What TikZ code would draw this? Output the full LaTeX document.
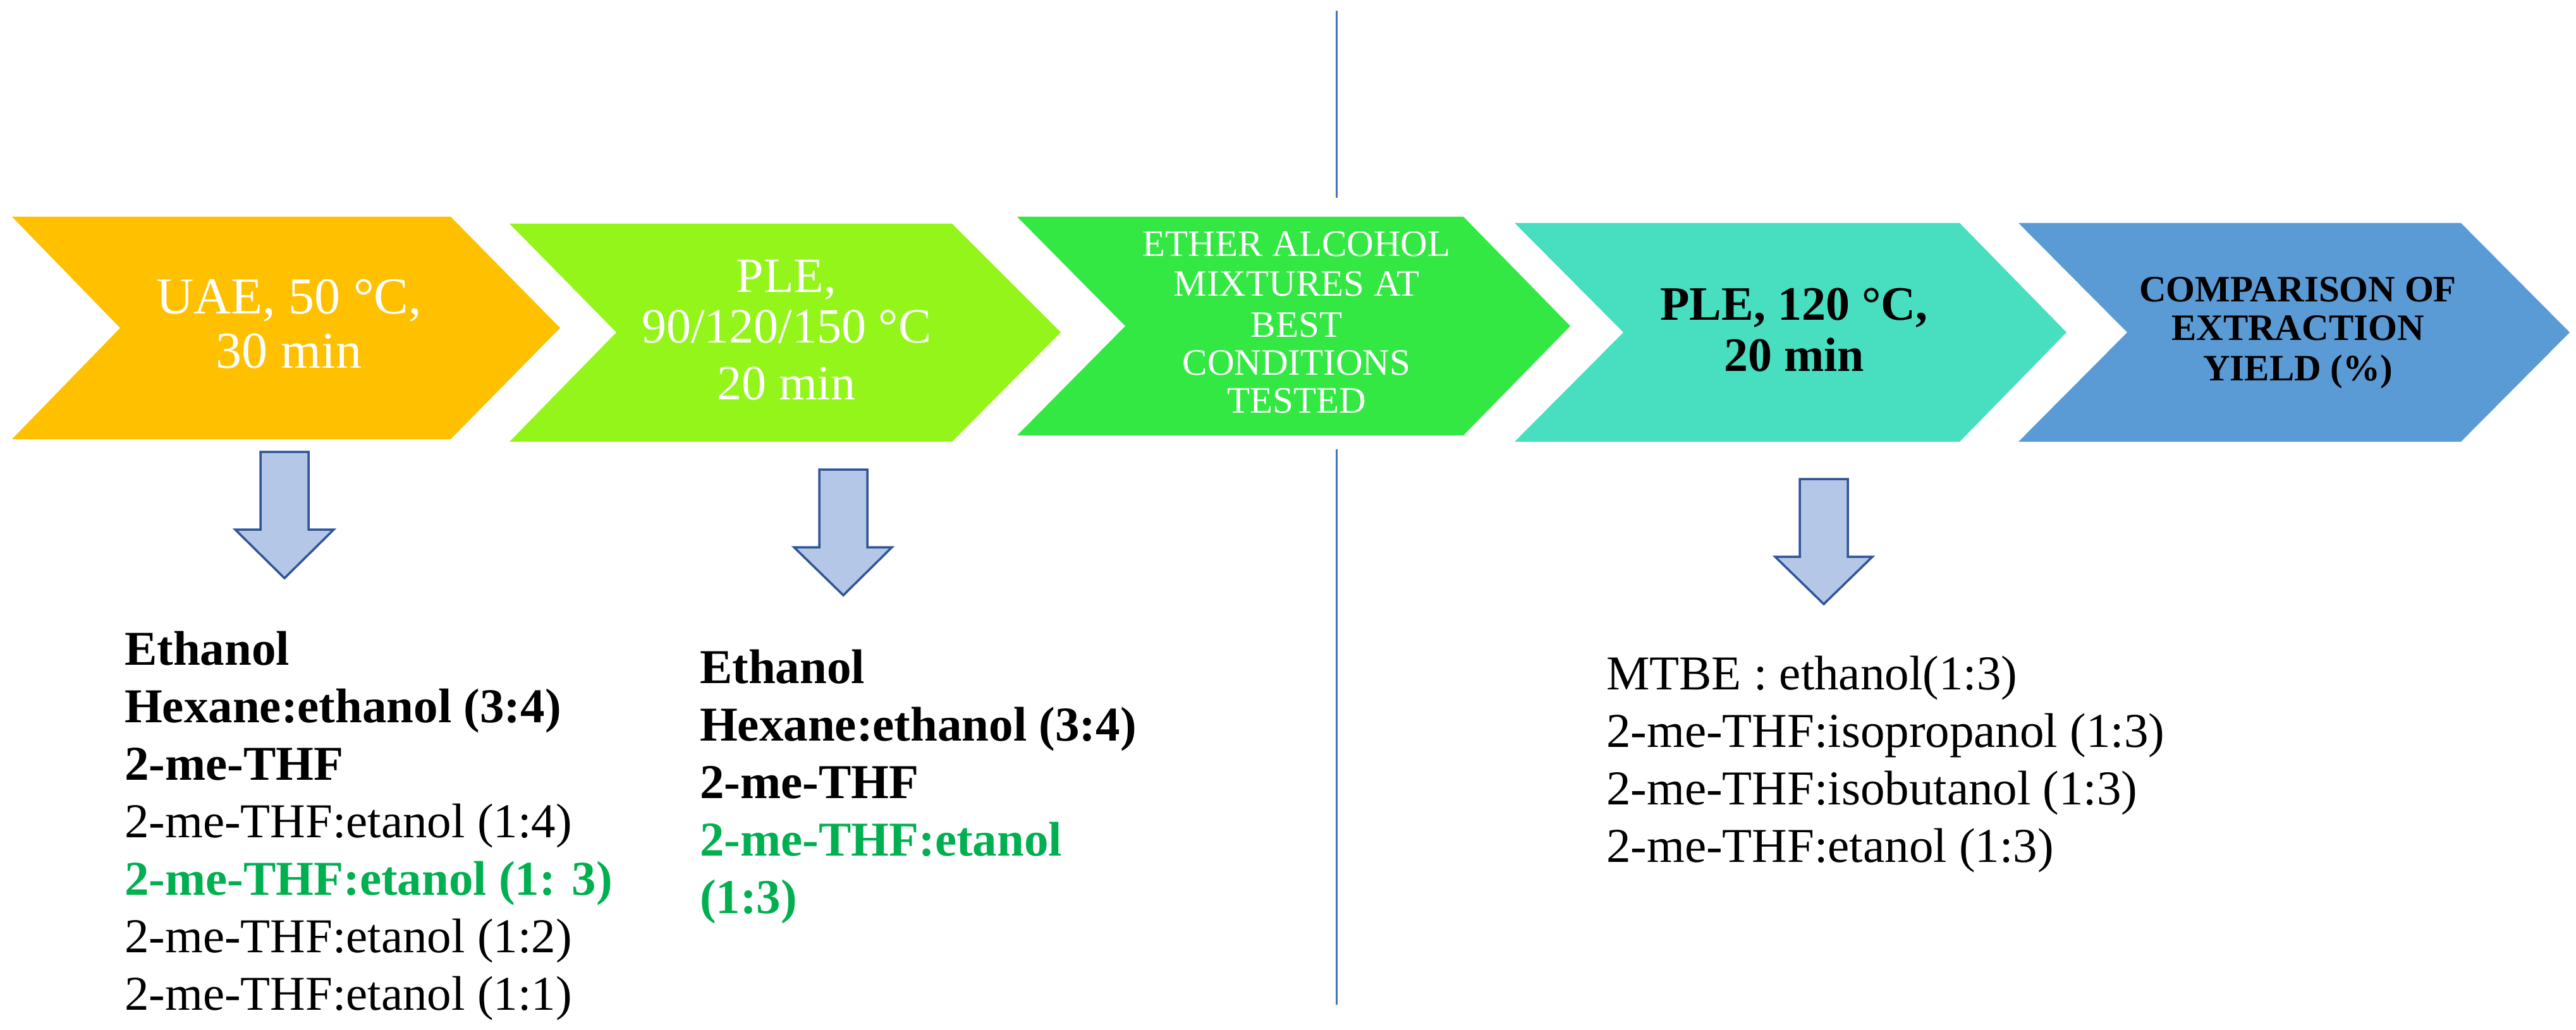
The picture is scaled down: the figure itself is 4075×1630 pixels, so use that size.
\documentclass[tikz,border=0pt]{standalone}
\usepackage{fontspec}
\setmainfont{Liberation Serif}
\definecolor{cOrange}{HTML}{FFC000}
\definecolor{cLime}{HTML}{94F51B}
\definecolor{cGreen}{HTML}{33E843}
\definecolor{cTeal}{HTML}{48DEC0}
\definecolor{cBlue}{HTML}{5B9BD5}
\definecolor{arrFill}{HTML}{B4C7E7}
\definecolor{arrLine}{HTML}{2F5597}
\definecolor{sepLine}{HTML}{4472C4}
\definecolor{txtGreen}{HTML}{00B050}
\begin{document}
\begin{tikzpicture}[x=0.1pt,y=-0.1pt,
  ctext/.style={inner sep=0pt,anchor=base,align=center},
  ltext/.style={inner sep=0pt,anchor=base west},
  downarr/.style={fill=arrFill,draw=arrLine,line width=0.35pt,line join=miter},
  f1/.style={font=\fontsize{8.2}{8.5}\selectfont},
  f2/.style={font=\fontsize{7.8}{8.5}\selectfont},
  f3/.style={font=\fontsize{5.9}{6.2}\selectfont},
  f4/.style={font=\fontsize{7.6}{8.5}\selectfont\bfseries},
  f5/.style={font=\fontsize{5.9}{6.2}\selectfont\bfseries},
  lst/.style={font=\fontsize{7.7}{9.1}\selectfont}]
\useasboundingbox (0,0) rectangle (4075,1630);
% separator
\coordinate (s1) at (2114,17); \coordinate (s2) at (2114,313);
\coordinate (s3) at (2114,711); \coordinate (s4) at (2114,1590);
\draw[sepLine,line width=0.3pt] (s1) -- (s2) (s3) -- (s4);
% chevrons
\fill[cOrange] (19,343) -- (713,343) -- (886,519) -- (713,695) -- (19,695) -- (190,519) -- cycle;
\fill[cLime] (806,354) -- (1506,354) -- (1678,526) -- (1506,699) -- (806,699) -- (975,526) -- cycle;
\fill[cGreen] (1609,343) -- (2315,343) -- (2484,516) -- (2315,689) -- (1609,689) -- (1780,516) -- cycle;
\fill[cTeal] (2396,353) -- (3100,353) -- (3269,526) -- (3100,699) -- (2396,699) -- (2568,526) -- cycle;
\fill[cBlue] (3193,353) -- (3893,353) -- (4065,526) -- (3893,699) -- (3193,699) -- (3365,526) -- cycle;
% chevron texts
\node[ctext,f1,white] (c1a) at (457,497) {UAE, 50 °C,};
\node[ctext,f1,white] (c1b) at (457,582) {30 min};
\node[ctext,f2,white] (c2a) at (1244,462) {PLE,};
\node[ctext,f2,white] (c2b) at (1244,543) {90/120/150 °C};
\node[ctext,f2,white] (c2c) at (1244,632) {20 min};
\node[ctext,f3,white] (c3a) at (2051,406) {ETHER ALCOHOL};
\node[ctext,f3,white] (c3b) at (2051,468) {MIXTURES AT};
\node[ctext,f3,white] (c3c) at (2051,534) {BEST};
\node[ctext,f3,white] (c3d) at (2051,594) {CONDITIONS};
\node[ctext,f3,white] (c3e) at (2051,654) {TESTED};
\node[ctext,f4] (c4a) at (2838,507) {PLE, 120 °C,};
\node[ctext,f4] (c4b) at (2838,587) {20 min};
\node[ctext,f5] (c5a) at (3635,478) {COMPARISON OF};
\node[ctext,f5] (c5b) at (3635,538) {EXTRACTION};
\node[ctext,f5] (c5c) at (3635,603) {YIELD (\%)};
% down arrows
\draw[downarr] (412,715) -- (488,715) -- (488,838) -- (528,838) -- (450,915) -- (372,838) -- (412,838) -- cycle;
\draw[downarr] (1296,743) -- (1372,743) -- (1372,866) -- (1411,866) -- (1334,942) -- (1256,866) -- (1296,866) -- cycle;
\draw[downarr] (2847,758) -- (2923,758) -- (2923,881) -- (2962,881) -- (2885,956) -- (2808,881) -- (2847,881) -- cycle;
% list 1
\node[ltext,lst,font=\fontsize{7.7}{9.1}\selectfont\bfseries] (l1a) at (195,1052) {Ethanol};
\node[ltext,lst,font=\fontsize{7.7}{9.1}\selectfont\bfseries] (l1b) at (195,1143) {Hexane:ethanol (3:4)};
\node[ltext,lst,font=\fontsize{7.7}{9.1}\selectfont\bfseries] (l1c) at (195,1234) {2-me-THF};
\node[ltext,lst] (l1d) at (195,1325) {2-me-THF:etanol (1:4)};
\node[ltext,lst,font=\fontsize{7.7}{9.1}\selectfont\bfseries,txtGreen] (l1e) at (195,1416) {2-me-THF:etanol (1: 3)};
\node[ltext,lst] (l1f) at (195,1507) {2-me-THF:etanol (1:2)};
\node[ltext,lst] (l1g) at (195,1598) {2-me-THF:etanol (1:1)};
% list 2
\node[ltext,lst,font=\fontsize{7.7}{9.1}\selectfont\bfseries] (l2a) at (1105,1081) {Ethanol};
\node[ltext,lst,font=\fontsize{7.7}{9.1}\selectfont\bfseries] (l2b) at (1105,1172) {Hexane:ethanol (3:4)};
\node[ltext,lst,font=\fontsize{7.7}{9.1}\selectfont\bfseries] (l2c) at (1105,1263) {2-me-THF};
\node[ltext,lst,font=\fontsize{7.7}{9.1}\selectfont\bfseries,txtGreen] (l2d) at (1105,1354) {2-me-THF:etanol};
\node[ltext,lst,font=\fontsize{7.7}{9.1}\selectfont\bfseries,txtGreen] (l2e) at (1105,1445) {(1:3)};
% list 3
\node[ltext,lst] (l3a) at (2539,1091) {MTBE : ethanol(1:3)};
\node[ltext,lst] (l3b) at (2539,1182) {2-me-THF:isopropanol (1:3)};
\node[ltext,lst] (l3c) at (2539,1273) {2-me-THF:isobutanol (1:3)};
\node[ltext,lst] (l3d) at (2539,1364) {2-me-THF:etanol (1:3)};
\end{tikzpicture}
\end{document}
